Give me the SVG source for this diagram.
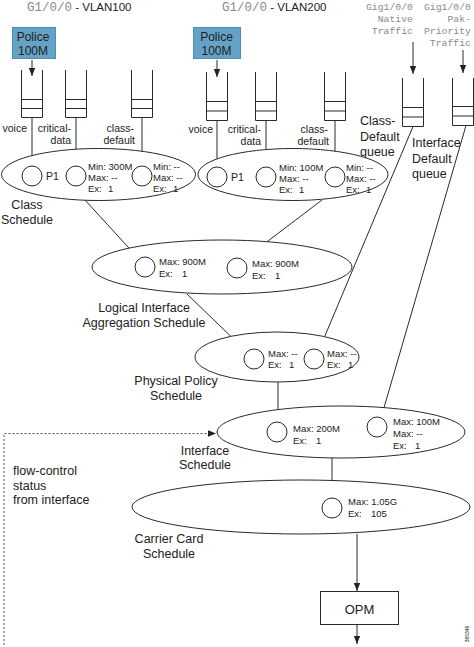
<svg xmlns="http://www.w3.org/2000/svg" width="474" height="647" viewBox="0 0 474 647">
<style>
.ln{stroke:#2a2a2a;stroke-width:1;fill:none}
.el{stroke:#2a2a2a;stroke-width:1;fill:#fff}
.ci{stroke:#2a2a2a;stroke-width:1;fill:#fff}
.t{font-family:"Liberation Sans",Arial,sans-serif;fill:#222}
.s{font-size:9.5px}
.q{font-size:10.5px}
.l{font-size:12.5px}
.m{font-family:"Liberation Mono","Courier New",monospace;fill:#8a8a8a}
.pol{fill:#64a3c6;stroke:#4f8fb4;stroke-width:1}
.qu{stroke:#2a2a2a;stroke-width:1;fill:none}
.e{text-anchor:end}
.c{text-anchor:middle}
</style>
<defs>
<marker id="ah" viewBox="0 0 8 8" refX="8" refY="4" markerWidth="8" markerHeight="8" markerUnits="userSpaceOnUse" orient="auto">
<path d="M0,0.8 L8,4 L0,7.2 Z" fill="#222"/>
</marker>
</defs>

<g id="titles">
<text class="t" x="27" y="11" font-size="11.5"><tspan class="m" font-size="12.5">G1/0/0</tspan> - VLAN100</text>
<text class="t" x="222" y="11" font-size="11.5"><tspan class="m" font-size="12.5">G1/0/0</tspan> - VLAN200</text>
<text class="m e" x="413" y="10" font-size="9.8">Gig1/0/0</text>
<text class="m e" x="413" y="22" font-size="9.8">Native</text>
<text class="m e" x="413" y="34" font-size="9.8">Traffic</text>
<text class="m e" x="471" y="10" font-size="9.8">Gig1/0/0</text>
<text class="m e" x="471" y="22" font-size="9.8">Pak-</text>
<text class="m e" x="471" y="34" font-size="9.8">Priority</text>
<text class="m e" x="471" y="46" font-size="9.8">Traffic</text>
</g>

<g id="police1">
<rect class="pol" x="12.5" y="27.5" width="43" height="31"/>
<text class="t c" x="33" y="41" font-size="12">Police</text>
<text class="t c" x="33" y="55" font-size="12">100M</text>
</g>
<g id="police2">
<rect class="pol" x="193.5" y="27.5" width="47" height="31"/>
<text class="t c" x="216.5" y="41" font-size="12">Police</text>
<text class="t c" x="216.5" y="55" font-size="12">100M</text>
</g>

<g id="queues1">
<path class="qu" d="M21.5,70 V117.5 H42.5 V70 M21.5,99.5 H42.5 M21.5,108.5 H42.5"/>
<path class="qu" d="M65.5,70 V117.5 H86.5 V70 M65.5,99.5 H86.5 M65.5,108.5 H86.5"/>
<path class="qu" d="M131.5,70 V117.5 H152.5 V70 M131.5,99.5 H152.5 M131.5,108.5 H152.5"/>
<text class="t q e" x="27" y="132">voice</text>
<text class="t q e" x="71" y="132">critical-</text>
<text class="t q e" x="71" y="144">data</text>
<text class="t q e" x="134" y="132">class-</text>
<text class="t q e" x="135" y="144">default</text>
</g>
<g id="queues2">
<path class="qu" d="M206.5,72 V120.5 H227.5 V72 M206.5,101.5 H227.5 M206.5,111 H227.5"/>
<path class="qu" d="M255.5,72 V120.5 H276.5 V72 M255.5,101.5 H276.5 M255.5,111 H276.5"/>
<path class="qu" d="M324.5,72 V120.5 H345.5 V72 M324.5,101.5 H345.5 M324.5,111 H345.5"/>
<text class="t q e" x="213" y="132.5">voice</text>
<text class="t q e" x="261" y="132.5">critical-</text>
<text class="t q e" x="261" y="144.5">data</text>
<text class="t q e" x="328" y="132.5">class-</text>
<text class="t q e" x="329" y="144.5">default</text>
</g>
<g id="classDefaultQueue">
<path class="qu" d="M402.5,78 V126.5 H423.5 V78 M402.5,107.5 H423.5 M402.5,117 H423.5"/>
<text class="t l" x="360" y="125">Class-</text>
<text class="t l" x="360" y="141">Default</text>
<text class="t l" x="360" y="156">queue</text>
</g>
<g id="interfaceDefaultQueue">
<path class="qu" d="M452.5,78 V125.5 H473.5 V78 M452.5,106.5 H473.5 M452.5,116 H473.5"/>
<text class="t l" x="412" y="147">Interface</text>
<text class="t l" x="412" y="163">Default</text>
<text class="t l" x="412" y="178">queue</text>
</g>

<g id="connectors">
<line class="ln" x1="32" y1="60" x2="32" y2="76" marker-end="url(#ah)"/>
<line class="ln" x1="217" y1="60" x2="217" y2="77" marker-end="url(#ah)"/>
<line class="ln" x1="413" y1="42" x2="413" y2="74" marker-end="url(#ah)"/>
<line class="ln" x1="463" y1="50" x2="463" y2="73" marker-end="url(#ah)"/>
<line class="ln" x1="32" y1="117.5" x2="32" y2="166"/>
<line class="ln" x1="76" y1="117.5" x2="76" y2="166"/>
<line class="ln" x1="142" y1="117.5" x2="142" y2="166"/>
<line class="ln" x1="217" y1="120.5" x2="217" y2="167"/>
<line class="ln" x1="266" y1="120.5" x2="266" y2="167"/>
<line class="ln" x1="335" y1="120.5" x2="335" y2="167"/>
<line class="ln" x1="85" y1="200" x2="139" y2="259"/>
<line class="ln" x1="322" y1="200" x2="243" y2="260"/>
<line class="ln" x1="187" y1="294" x2="247" y2="352"/>
<line class="ln" x1="413" y1="126.5" x2="319" y2="350"/>
<line class="ln" x1="466" y1="125.5" x2="381" y2="418"/>
<line class="ln" x1="278" y1="382" x2="278" y2="422"/>
<line class="ln" x1="332" y1="458" x2="332" y2="498"/>
<line class="ln" x1="357" y1="534" x2="357" y2="591" marker-end="url(#ah)"/>
<line class="ln" x1="357" y1="625" x2="357" y2="644" marker-end="url(#ah)"/>
<path d="M4,645 V433.5 H216" stroke="#555" stroke-width="1" fill="none" stroke-dasharray="2,2" marker-end="url(#ah)"/>
</g>

<g id="classSchedule1">
<ellipse class="el" cx="98.5" cy="174.5" rx="97" ry="26"/>
<circle class="ci" cx="32" cy="176" r="10"/>
<circle class="ci" cx="76" cy="176" r="10"/>
<circle class="ci" cx="142" cy="176" r="10"/>
<text class="t q" x="46" y="180">P1</text>
<text class="t s" x="88" y="170">Min: 300M</text>
<text class="t s" x="88" y="181">Max: --</text>
<text class="t s" x="88" y="192">Ex:<tspan x="108">1</tspan></text>
<text class="t s" x="153" y="170">Min: --</text>
<text class="t s" x="153" y="181">Max: --</text>
<text class="t s" x="153" y="192">Ex:<tspan x="173">1</tspan></text>
<text class="t l c" x="27" y="209">Class</text>
<text class="t l c" x="27" y="224">Schedule</text>
</g>
<g id="classSchedule2">
<ellipse class="el" cx="293" cy="174.5" rx="95" ry="26"/>
<circle class="ci" cx="217" cy="177" r="10"/>
<circle class="ci" cx="266" cy="177" r="10"/>
<circle class="ci" cx="335" cy="177" r="10"/>
<text class="t q" x="231" y="181">P1</text>
<text class="t s" x="279" y="170.5">Min: 100M</text>
<text class="t s" x="279" y="181.5">Max: --</text>
<text class="t s" x="279" y="192.5">Ex:<tspan x="299">1</tspan></text>
<text class="t s" x="346" y="170.5">Min: --</text>
<text class="t s" x="346" y="181.5">Max: --</text>
<text class="t s" x="346" y="192.5">Ex:<tspan x="366">1</tspan></text>
</g>

<g id="logicalSchedule">
<ellipse class="el" cx="222" cy="267" rx="130" ry="27"/>
<circle class="ci" cx="145" cy="267" r="10"/>
<circle class="ci" cx="237" cy="268" r="10"/>
<text class="t s" x="159" y="265">Max: 900M</text>
<text class="t s" x="159" y="277">Ex:<tspan x="182">1</tspan></text>
<text class="t s" x="252" y="267">Max: 900M</text>
<text class="t s" x="252" y="279">Ex:<tspan x="275">1</tspan></text>
<text class="t l c" x="144" y="312">Logical Interface</text>
<text class="t l c" x="144" y="327">Aggregation Schedule</text>
</g>

<g id="physicalSchedule">
<ellipse class="el" cx="277" cy="357" rx="82" ry="25"/>
<circle class="ci" cx="254" cy="359" r="10"/>
<circle class="ci" cx="314" cy="359" r="10"/>
<text class="t s" x="268" y="357">Max: --</text>
<text class="t s" x="268" y="368">Ex:<tspan x="289">1</tspan></text>
<text class="t s" x="327" y="357">Max: --</text>
<text class="t s" x="327" y="368">Ex:<tspan x="348">1</tspan></text>
<text class="t l c" x="176" y="385">Physical Policy</text>
<text class="t l c" x="176" y="400">Schedule</text>
</g>

<g id="interfaceSchedule">
<ellipse class="el" cx="341" cy="432" rx="124" ry="26"/>
<circle class="ci" cx="277" cy="432" r="10"/>
<circle class="ci" cx="377" cy="427" r="10"/>
<text class="t s" x="293" y="432">Max: 200M</text>
<text class="t s" x="293" y="444">Ex:<tspan x="316">1</tspan></text>
<text class="t s" x="393" y="425">Max: 100M</text>
<text class="t s" x="393" y="437">Max: --</text>
<text class="t s" x="393" y="449">Ex:<tspan x="415">1</tspan></text>
<text class="t l c" x="205" y="455">Interface</text>
<text class="t l c" x="205" y="469">Schedule</text>
</g>

<g id="flowControl">
<text class="t l" x="13" y="475">flow-control</text>
<text class="t l" x="13" y="490">status</text>
<text class="t l" x="13" y="504">from interface</text>
</g>

<g id="carrierSchedule">
<ellipse class="el" cx="301" cy="507" rx="169" ry="27"/>
<circle class="ci" cx="332" cy="508" r="10"/>
<text class="t s" x="348" y="505">Max: 1.05G</text>
<text class="t s" x="348" y="517">Ex:<tspan x="371">105</tspan></text>
<text class="t l c" x="169" y="543">Carrier Card</text>
<text class="t l c" x="169" y="558">Schedule</text>
</g>

<g id="opm">
<rect x="320.5" y="591.5" width="78" height="33" fill="#fff" stroke="#2a2a2a" stroke-width="1"/>
<text class="t c" x="359.5" y="614" font-size="13">OPM</text>
</g>

<text class="t" x="469" y="634" font-size="5" fill="#777" transform="rotate(-90 469 634)" text-anchor="middle">365346</text>
</svg>
